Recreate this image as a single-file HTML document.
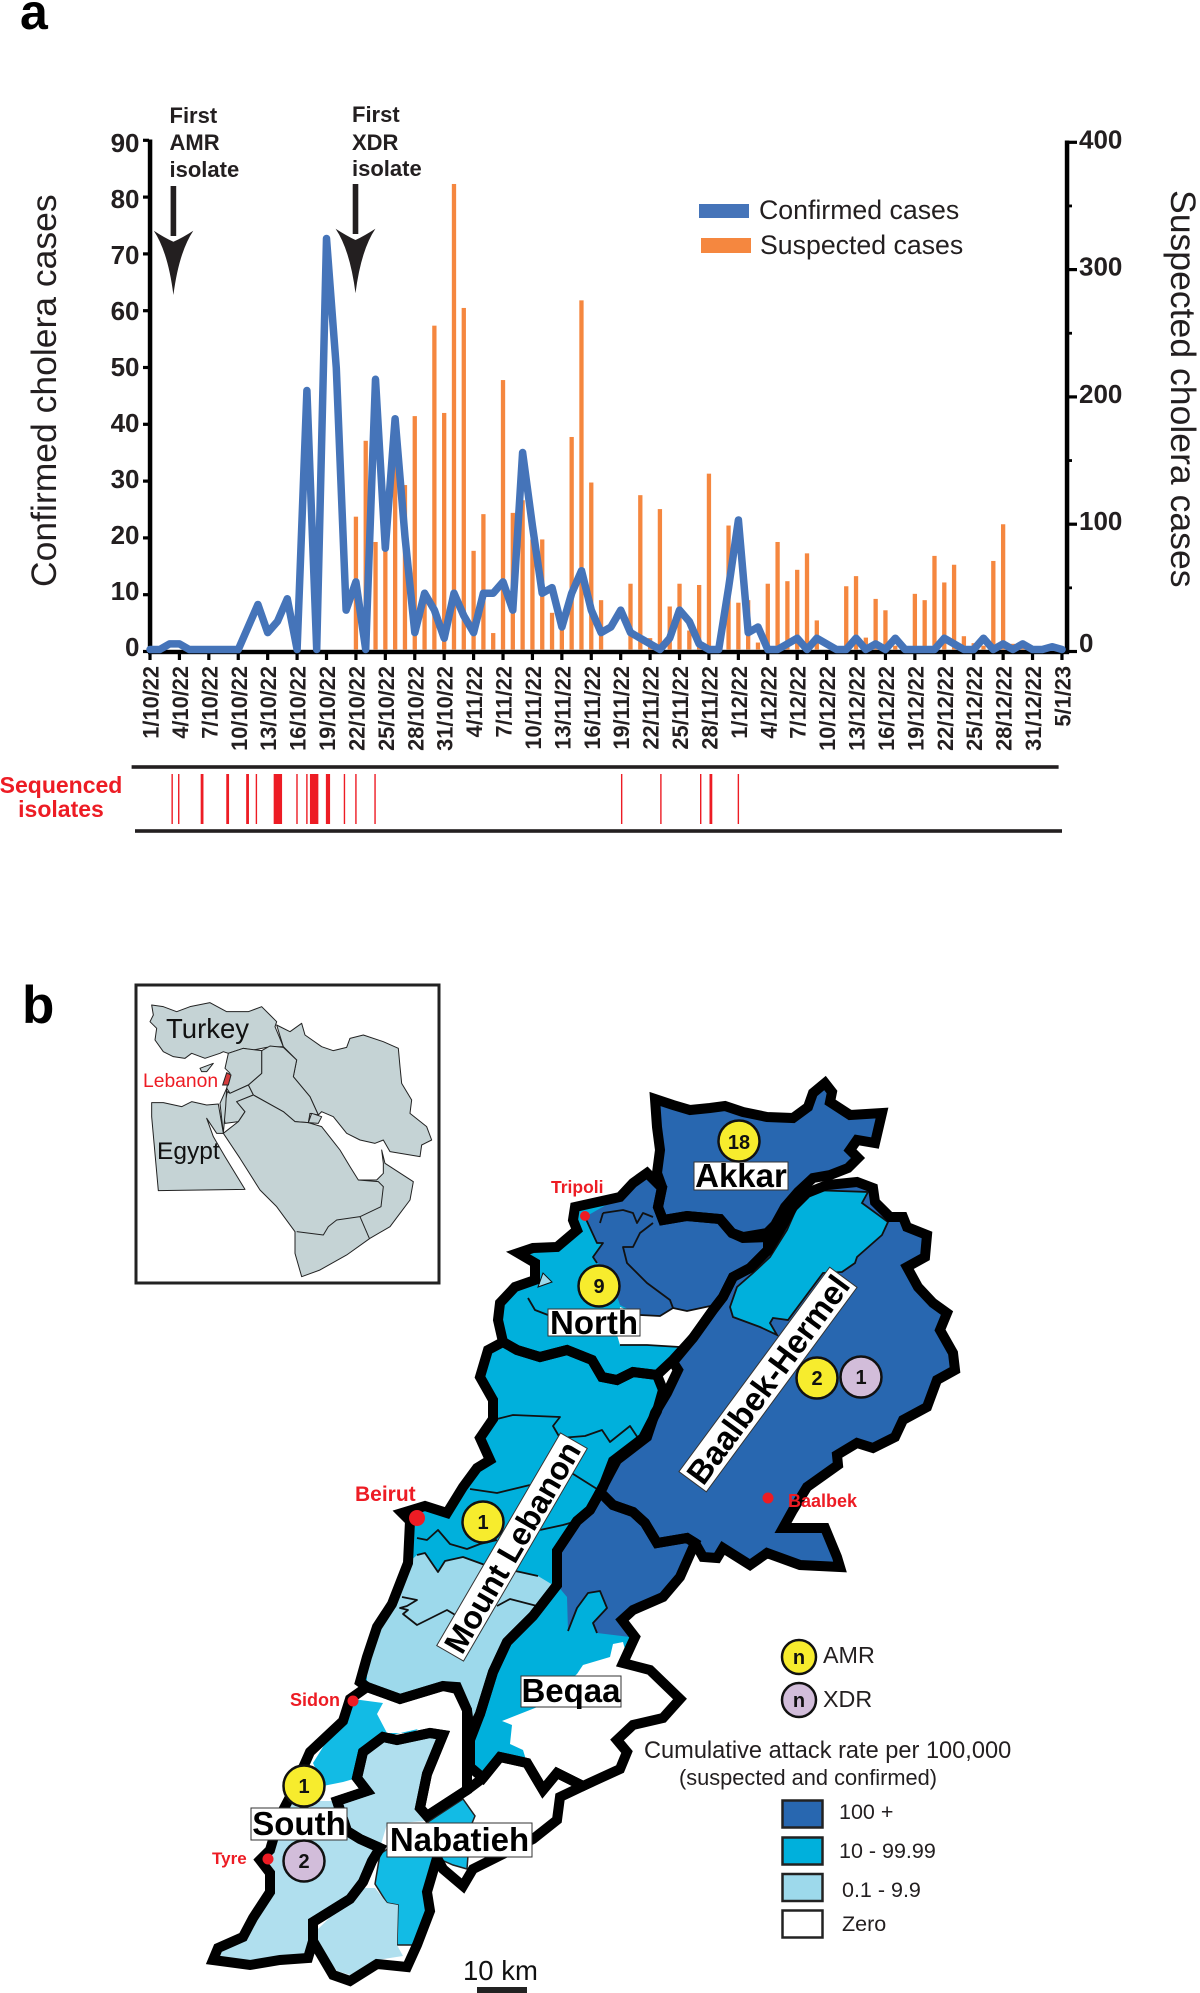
<!DOCTYPE html>
<html lang="en">
<head>
<meta charset="utf-8">
<title>Cholera cases in Lebanon</title>
<style>
html,body{margin:0;padding:0;background:#fff;}
svg{display:block;}
text{font-family:"Liberation Sans",Arial,sans-serif;fill:#231f20;}
.b{font-weight:bold;}
.red{fill:#ed1c24;}
.thick{fill:none;stroke:#000;stroke-width:10;stroke-linejoin:miter;stroke-miterlimit:3;}
.thin{fill:none;stroke:#111;stroke-width:1.8;stroke-linejoin:round;}
.lab{fill:#fff;stroke:#333;stroke-width:1;}
.labt{font-weight:bold;fill:#000;font-size:33px;text-anchor:middle;}
.cn{font-weight:bold;font-size:20px;text-anchor:middle;fill:#111;}
.ins{fill:#c5d3d5;stroke:#222;stroke-width:3;stroke-linejoin:round;}
</style>
</head>
<body>
<svg id="fig" xmlns="http://www.w3.org/2000/svg" width="1200" height="1993" viewBox="0 0 1200 1993">
<rect width="1200" height="1993" fill="#fff"/>

<text x="20" y="29" class="b" font-size="50" style="fill:#000">a</text>
<text x="22" y="1023" class="b" font-size="53" style="fill:#000">b</text>

<!-- PANEL A static text -->
<text transform="translate(56,587) rotate(-90)" font-size="35.5">Confirmed cholera cases</text>
<text transform="translate(1171,190) rotate(90)" font-size="35.6">Suspected cholera cases</text>

<g>
<text x="169.5" y="123" class="b" font-size="22">First</text>
<text x="169.5" y="150" class="b" font-size="22">AMR</text>
<text x="169.5" y="177" class="b" font-size="22">isolate</text>
<rect x="170.6" y="186" width="5.6" height="50" fill="#231f20"/>
<path d="M173.4 295 Q168 252 153.8 230.7 Q165 238 173.4 241.7 Q182 238 193.3 230.7 Q179 252 173.4 295Z" fill="#231f20"/>
</g>
<g>
<text x="352" y="122" class="b" font-size="22">First</text>
<text x="352" y="150" class="b" font-size="22">XDR</text>
<text x="352" y="176" class="b" font-size="22">isolate</text>
<rect x="352.7" y="184" width="5.6" height="50" fill="#231f20"/>
<path d="M355.5 293.3 Q350 250 335.6 228.7 Q347 236 355.5 240 Q364 236 375.4 228.7 Q361 250 355.5 293.3Z" fill="#231f20"/>
</g>

<g>
<rect x="699" y="204" width="50" height="14" fill="#4574b9"/>
<text x="759" y="219" font-size="26.7">Confirmed cases</text>
<rect x="701" y="238" width="50" height="15" fill="#f5873f"/>
<text x="760" y="254" font-size="26.7">Suspected cases</text>
</g>

<g id="plot"></g>

<rect x="131.6" y="765.2" width="927" height="3.6" fill="#231f20"/>
<rect x="135" y="829.2" width="927" height="3.6" fill="#231f20"/>
<g>
<text x="61" y="793" class="b red" font-size="23" text-anchor="middle">Sequenced</text>
<text x="61" y="817" class="b red" font-size="23" text-anchor="middle">isolates</text>
</g>
<g id="strip"></g>

<!-- INSET MAP -->
<g>
<rect x="136" y="985" width="303" height="298" fill="#fff" stroke="#222" stroke-width="3"/>
<g transform="translate(0,960) scale(.33333)">
<polygon class="ins" points="455,135 490,140 530,155 570,140 630,128 680,155 745,155 785,140 810,165 830,185 825,200 850,260 800,262 760,270 730,265 685,280 670,275 660,280 615,295 575,280 555,295 520,290 490,275 465,240 470,205 450,185 460,165"/>
<polygon class="ins" points="830,195 870,215 905,190 915,225 965,260 1000,272 1040,262 1050,235 1090,225 1150,245 1195,265 1200,320 1205,370 1235,420 1230,460 1280,500 1295,540 1265,555 1260,590 1170,575 1150,540 1125,550 1080,540 1040,520 1000,470 965,455 955,465 930,410 880,350 890,300 850,260"/>
<polygon class="ins" points="850,262 890,300 880,350 930,410 955,465 930,460 925,488 885,485 850,455 760,405 745,375 785,340 785,272 810,258"/>
<polygon class="ins" points="685,280 730,265 785,272 785,340 745,375 690,400 680,385 690,340 675,325"/>
<polygon class="ins" points="745,375 760,405 710,425 735,455 715,485 675,490 670,455 682,395 690,400"/>
<polygon class="ins" points="710,425 760,405 850,455 885,485 925,488 965,500 1020,570 1050,620 1075,660 1130,660 1150,640 1150,610 1145,570 1155,610 1240,665 1230,720 1200,760 1170,800 1110,835 1040,885 960,930 905,950 885,880 885,815 830,740 780,690 720,595 670,520 715,485 735,455"/>
<polyline class="ins" style="fill:none" points="1075,660 1135,665 1150,680 1143,740 1080,770 1010,780 985,800 970,825 890,815"/>
<polyline class="ins" style="fill:none" points="1080,770 1108,835"/>
<polygon class="ins" points="925,488 935,460 965,470 955,490"/>
<polygon class="ins" points="680,385 660,430 670,520 677,440"/>
<polygon class="ins" points="455,428 490,428 545,440 575,425 620,435 655,432 670,520 650,520 620,475 640,530 675,590 735,688 475,692 455,470"/>
<polygon class="ins" points="600,325 640,310 620,335 605,335"/>
<polygon fill="#d63b3c" stroke="#222" stroke-width="3" points="680,338 693,345 685,375 668,375"/>
</g>
<text x="166" y="1038" font-size="27.5" style="fill:#111">Turkey</text>
<text x="143" y="1087" font-size="19.3" class="red">Lebanon</text>
<text x="157" y="1159" font-size="24.5" style="fill:#111">Egypt</text>
</g>

<!-- LEBANON MAP -->
<g>
<!-- fills -->
<polygon fill="#2867b0" points="655,1099 673,1105 690,1110 710,1108 725,1106 743,1112 767,1117 793,1118 808,1107 813,1093 825,1083 832,1092 830,1102 850,1115 882,1113 875,1143 857,1140 850,1150 858,1158 848,1168 830,1175 813,1178 798,1192 785,1207 775,1225 767,1233 743,1237 732,1233 720,1219 687,1216 663,1220 658,1207 662,1187 657,1173 660,1150 657,1127"/>
<polygon fill="#00b0dc" points="575,1207 620,1197 633,1183 647,1173 662,1188 658,1207 663,1220 687,1216 720,1219 732,1233 743,1238 768,1237 768,1250 750,1268 733,1277 723,1297 713,1310 693,1338 673,1360 657,1375 633,1372 617,1380 602,1377 592,1360 567,1350 540,1357 517,1350 503,1342 498,1320 500,1303 515,1287 535,1280 535,1263 518,1253 533,1248 557,1247 577,1230 573,1220"/>
<polygon fill="#2867b0" points="585,1217 597,1243 603,1243 593,1257 597,1263 607,1267 620,1305 640,1315 660,1316 673,1308 687,1311 715,1305 723,1297 733,1277 750,1268 768,1250 768,1237 743,1238 732,1233 720,1219 687,1216 663,1220 658,1207 662,1188 647,1173 620,1197"/>
<polygon fill="#fff" points="620,1307 640,1315 660,1316 673,1308 687,1311 715,1305 723,1297 713,1310 703,1323 680,1347 647,1345 620,1345 617,1335"/>
<polygon fill="#9dd9eb" stroke="#111" stroke-width="1" points="538,1287 543,1273 552,1282"/>
<polygon fill="#00b0dc" points="503,1342 517,1350 540,1357 567,1350 592,1360 602,1377 617,1380 633,1372 657,1375 663,1390 657,1411 643,1438 613,1461 603,1487 590,1510 577,1521 557,1551 557,1585 533,1616 507,1642 493,1672 480,1714 470,1733 467,1710 457,1687 443,1686 400,1699 367,1687 360,1682 367,1657 377,1627 392,1604 408,1563 410,1521 402,1513 425,1506 447,1513 463,1487 477,1468 490,1460 480,1438 493,1419 493,1400 480,1377 488,1350"/>
<polygon fill="#9dd9eb" points="417,1555 425,1553 438,1572 445,1561 463,1557 485,1565 520,1572 538,1576 553,1585 533,1616 507,1642 493,1672 480,1714 470,1725 457,1687 443,1686 400,1699 367,1687 367,1657 377,1627 392,1604 408,1563"/>
<polygon fill="#2867b0" points="673,1362 693,1338 713,1310 723,1297 733,1277 750,1268 768,1250 780,1230 793,1207 807,1193 827,1185 857,1182 873,1188 875,1202 890,1217 903,1217 907,1227 927,1235 925,1257 907,1267 918,1287 933,1303 947,1313 940,1330 953,1353 955,1370 937,1380 927,1407 903,1420 895,1437 873,1448 857,1443 837,1455 838,1465 807,1487 793,1510 783,1528 825,1528 837,1557 840,1567 800,1565 767,1553 750,1565 723,1548 717,1558 703,1557 695,1543 687,1538 657,1543 645,1523 633,1512 613,1505 600,1492 610,1473 617,1460 647,1437 655,1413 667,1393 678,1370"/>
<polygon fill="#00b0dc" stroke="#111" stroke-width="1.8" points="810,1190 868,1192 862,1203 888,1222 882,1235 857,1257 855,1263 842,1272 823,1273 788,1320 773,1318 770,1323 777,1335 760,1327 733,1317 730,1307 737,1287 753,1273 770,1257 787,1230 797,1207"/>
<polygon fill="#00b0dc" points="600,1492 613,1505 633,1512 645,1523 657,1543 687,1538 695,1543 680,1577 663,1597 633,1610 622,1620 635,1637 623,1663 650,1670 680,1699 663,1718 633,1725 617,1740 627,1752 620,1769 583,1786 557,1773 543,1790 527,1763 500,1757 483,1778 470,1767 470,1740 480,1714 493,1672 507,1642 533,1616 557,1585 557,1551 577,1521 590,1510"/>
<polygon fill="#2867b0" points="600,1492 613,1505 633,1512 645,1523 657,1543 687,1538 695,1543 680,1577 663,1597 633,1610 622,1620 630,1637 597,1633 593,1623 607,1608 600,1591 588,1593 577,1608 568,1631 567,1597 557,1585 557,1551 577,1521 590,1510"/>
<polygon fill="#fff" points="623,1642 613,1644 610,1657 583,1665 577,1674 540,1706 502,1721 512,1725 510,1744 523,1750 527,1763 543,1790 557,1773 583,1786 620,1769 627,1752 617,1740 633,1725 663,1718 680,1699 650,1670 627,1657"/>
<polygon fill="#12bbe5" points="353,1699 383,1703 377,1714 387,1733 413,1733 418,1729 383,1737 363,1752 357,1778 343,1782 323,1786 313,1763"/>
<polygon fill="#b0dfee" points="290,1801 337,1801 347,1831 360,1839 380,1848 372,1861 363,1882 350,1899 313,1922 313,1941 308,1958 280,1960 250,1965 213,1960 218,1948 243,1937 253,1918 270,1892 270,1873 270,1850 280,1816"/>
<polygon fill="#b0dfee" points="337,1801 367,1791 357,1778 363,1752 383,1737 397,1740 430,1733 443,1735 427,1774 420,1808 427,1816 437,1820 387,1824 380,1848 360,1839 347,1831"/>
<polygon fill="#12bbe5" stroke="#222" stroke-width="1.5" points="437,1816 463,1799 475,1816 470,1828 467,1869 453,1865 437,1858 427,1892 430,1911 413,1945 397,1945 398,1905 387,1903 375,1884 380,1854"/>
<polygon fill="#b0dfee" points="318,1929 360,1888 375,1888 387,1903 398,1905 397,1945 403,1956 377,1960 350,1975 337,1971 318,1945"/>

<!-- thin internal district lines -->
<g>
<polyline class="thin" points="585,1217 597,1243 603,1243 593,1257 597,1263"/>
<polyline class="thin" points="603,1213 623,1210 633,1213 637,1223 643,1213 653,1217"/>
<polyline class="thin" points="653,1223 640,1233 633,1247 623,1247 627,1263 647,1283 670,1300 673,1308"/>
<polyline class="thin" points="603,1213 600,1223"/>
<polyline class="thin" points="528,1298 535,1310 548,1315"/>
<polyline class="thin" points="620,1345 647,1345 680,1347 703,1323"/>
<polyline class="thin" points="640,1315 660,1316 673,1308 687,1311 715,1305"/>
<polyline class="thin" points="497,1419 513,1415 560,1417 553,1426 560,1438 585,1436 602,1430 610,1442 630,1426 638,1438"/>
<polyline class="thin" points="470,1489 497,1493 530,1485"/>
<polyline class="thin" points="570,1472 597,1489"/>
<polyline class="thin" points="417,1538 427,1540 438,1530 450,1544 467,1549 480,1544 497,1540"/>
<polyline class="thin" points="540,1530 563,1525 577,1521"/>
<polyline class="thin" points="417,1555 425,1553 438,1572 445,1561 463,1557 485,1565 520,1572 538,1576"/>
<polyline class="thin" points="402,1597 417,1600 407,1606 400,1608 408,1610 403,1614 417,1625 447,1610 457,1616"/>
<polyline class="thin" points="497,1606 510,1599 537,1606"/>
<polyline class="thin" points="597,1633 593,1623 607,1608 600,1591 588,1593 577,1608 568,1631"/>
</g>

<!-- thick governorate outlines -->
<g>
<polygon class="thick" points="655,1099 673,1105 690,1110 710,1108 725,1106 743,1112 767,1117 793,1118 808,1107 813,1093 825,1083 832,1092 830,1102 850,1115 882,1113 875,1143 857,1140 850,1150 858,1158 848,1168 830,1175 813,1178 798,1192 785,1207 775,1225 767,1233 743,1237 732,1233 720,1219 687,1216 663,1220 658,1207 662,1187 657,1173 660,1150 657,1127"/>
<polygon class="thick" points="575,1207 620,1197 633,1183 647,1173 662,1188 658,1207 663,1220 687,1216 720,1219 732,1233 743,1238 768,1237 768,1250 750,1268 733,1277 723,1297 713,1310 693,1338 673,1360 657,1375 633,1372 617,1380 602,1377 592,1360 567,1350 540,1357 517,1350 503,1342 498,1320 500,1303 515,1287 535,1280 535,1263 518,1253 533,1248 557,1247 577,1230 573,1220"/>
<polygon class="thick" points="503,1342 517,1350 540,1357 567,1350 592,1360 602,1377 617,1380 633,1372 657,1375 663,1390 657,1411 643,1438 613,1461 603,1487 590,1510 577,1521 557,1551 557,1585 533,1616 507,1642 493,1672 480,1714 470,1733 467,1710 457,1687 443,1686 400,1699 367,1687 360,1682 367,1657 377,1627 392,1604 408,1563 410,1521 402,1513 425,1506 447,1513 463,1487 477,1468 490,1460 480,1438 493,1419 493,1400 480,1377 488,1350"/>
<polygon class="thick" points="673,1362 693,1338 713,1310 723,1297 733,1277 750,1268 768,1250 780,1230 793,1207 807,1193 827,1185 857,1182 873,1188 875,1202 890,1217 903,1217 907,1227 927,1235 925,1257 907,1267 918,1287 933,1303 947,1313 940,1330 953,1353 955,1370 937,1380 927,1407 903,1420 895,1437 873,1448 857,1443 837,1455 838,1465 807,1487 793,1510 783,1528 825,1528 837,1557 840,1567 800,1565 767,1553 750,1565 723,1548 717,1558 703,1557 695,1543 687,1538 657,1543 645,1523 633,1512 613,1505 600,1492 610,1473 617,1460 647,1437 655,1413 667,1393 678,1370"/>
<polygon class="thick" points="600,1492 613,1505 633,1512 645,1523 657,1543 687,1538 695,1543 680,1577 663,1597 633,1610 622,1620 635,1637 623,1663 650,1670 680,1699 663,1718 633,1725 617,1740 627,1752 620,1769 583,1786 557,1773 543,1790 527,1763 500,1757 483,1778 470,1767 470,1740 480,1714 493,1672 507,1642 533,1616 557,1585 557,1551 577,1521 590,1510"/>
<polygon class="thick" points="350,1699 343,1721 310,1752 290,1797 280,1816 270,1850 260,1860 270,1873 270,1892 253,1918 243,1937 218,1948 213,1960 250,1965 280,1960 308,1958 313,1941 313,1922 350,1899 363,1882 372,1861 380,1848 360,1839 347,1831 337,1801 367,1791 357,1778 363,1752 383,1737 397,1740 430,1733 443,1735 427,1774 420,1808 427,1816 467,1790 467,1733 467,1710 457,1689 443,1686 400,1699 367,1687"/>
<polygon class="thick" points="337,1801 367,1791 357,1778 363,1752 383,1737 397,1740 430,1733 443,1735 427,1774 420,1808 427,1816 467,1790 483,1778 500,1757 527,1763 543,1790 557,1773 583,1786 560,1797 557,1820 533,1839 473,1869 463,1886 443,1869 437,1858 427,1892 430,1911 417,1945 407,1967 377,1964 350,1981 333,1975 313,1941 313,1922 350,1899 363,1882 372,1861 380,1848 360,1839 347,1831"/>
</g>

<!-- region labels -->
<g><rect class="lab" x="694" y="1162" width="94" height="28"/><text class="labt" x="741" y="1187">Akkar</text></g>
<g><rect class="lab" x="548" y="1309" width="92" height="27"/><text class="labt" x="594" y="1334">North</text></g>
<g transform="translate(768,1379.5) rotate(-53.6)"><rect class="lab" x="-127" y="-17" width="254" height="34"/><text class="labt" x="0" y="11.5">Baalbek-Hermel</text></g>
<g transform="translate(512,1547) rotate(-59.8)"><rect class="lab" x="-123" y="-15.5" width="246" height="31"/><text class="labt" x="0" y="11.5" style="font-size:32px">Mount Lebanon</text></g>
<g><rect class="lab" x="521" y="1676" width="100" height="31"/><text class="labt" x="571" y="1702">Beqaa</text></g>
<g><rect class="lab" x="251" y="1808" width="96" height="32"/><text class="labt" x="299" y="1835">South</text></g>
<g><rect class="lab" x="387" y="1823" width="145" height="34"/><text class="labt" x="459.5" y="1851">Nabatieh</text></g>

<!-- isolate count badges -->
<g><circle cx="739" cy="1141" r="20.5" fill="#f7ec2d" stroke="#111" stroke-width="2.5"/><text class="cn" x="739" y="1149">18</text></g>
<g><circle cx="599" cy="1286" r="20.5" fill="#f7ec2d" stroke="#111" stroke-width="2.5"/><text class="cn" x="599" y="1293">9</text></g>
<g><circle cx="817" cy="1378" r="20.5" fill="#f7ec2d" stroke="#111" stroke-width="2.5"/><text class="cn" x="817" y="1385">2</text></g>
<g><circle cx="861" cy="1377" r="20.5" fill="#d2bdda" stroke="#111" stroke-width="2.5"/><text class="cn" x="861" y="1384">1</text></g>
<g><circle cx="483" cy="1522" r="20.5" fill="#f7ec2d" stroke="#111" stroke-width="2.5"/><text class="cn" x="483" y="1529">1</text></g>
<g><circle cx="304" cy="1786" r="20.5" fill="#f7ec2d" stroke="#111" stroke-width="2.5"/><text class="cn" x="304" y="1793">1</text></g>
<g><circle cx="304" cy="1861" r="20.5" fill="#d2bdda" stroke="#111" stroke-width="2.5"/><text class="cn" x="304" y="1868">2</text></g>

<!-- cities -->
<g><circle cx="585" cy="1216" r="5" fill="#ed1c24"/><text x="551" y="1193" class="b red" font-size="17.5">Tripoli</text></g>
<g><circle cx="417" cy="1518" r="8" fill="#ed1c24"/><text x="355" y="1501" class="b red" font-size="21">Beirut</text></g>
<g><circle cx="353" cy="1701" r="5.5" fill="#ed1c24"/><text x="290" y="1706" class="b red" font-size="18">Sidon</text></g>
<g><circle cx="268" cy="1859" r="5.5" fill="#ed1c24"/><text x="212" y="1864" class="b red" font-size="17">Tyre</text></g>
<g><circle cx="768" cy="1498" r="5.5" fill="#ed1c24"/><text x="788" y="1507" class="b red" font-size="18">Baalbek</text></g>

<g>
<text x="463" y="1980" font-size="27.5" style="fill:#111">10 km</text>
<rect x="477" y="1987" width="50" height="6" fill="#222"/>
</g>
</g>

<!-- map legend -->
<g>
<g><circle cx="799" cy="1657" r="17" fill="#f7ec2d" stroke="#111" stroke-width="2.5"/><text class="cn" x="799" y="1664">n</text><text x="823" y="1663" font-size="23.3">AMR</text></g>
<g><circle cx="799" cy="1700" r="17" fill="#d2bdda" stroke="#111" stroke-width="2.5"/><text class="cn" x="799" y="1707">n</text><text x="823" y="1707" font-size="23.3">XDR</text></g>
<text x="644" y="1758" font-size="23.6">Cumulative attack rate per 100,000</text>
<text x="679" y="1785" font-size="21.8">(suspected and confirmed)</text>
<g><rect x="782.5" y="1800.5" width="40" height="27" fill="#2867b0" stroke="#222" stroke-width="2.5"/><text x="839" y="1819" font-size="21.5">100 +</text></g>
<g><rect x="782.5" y="1837.5" width="40" height="27" fill="#00b0dc" stroke="#222" stroke-width="2.5"/><text x="839" y="1858" font-size="21.5">10 - 99.99</text></g>
<g><rect x="782.5" y="1874" width="40" height="27" fill="#9dd9eb" stroke="#222" stroke-width="2.5"/><text x="842" y="1897" font-size="21.5">0.1 - 9.9</text></g>
<g><rect x="782.5" y="1910.5" width="40" height="27" fill="#fff" stroke="#222" stroke-width="2.5"/><text x="842" y="1931" font-size="21.5">Zero</text></g>
</g>
</svg>

<script>
const dateLabels = ["1/10/22","4/10/22","7/10/22","10/10/22","13/10/22","16/10/22","19/10/22","22/10/22","25/10/22","28/10/22","31/10/22","4/11/22","7/11/22","10/11/22","13/11/22","16/11/22","19/11/22","22/11/22","25/11/22","28/11/22","1/12/22","4/12/22","7/12/22","10/12/22","13/12/22","16/12/22","19/12/22","22/12/22","25/12/22","28/12/22","31/12/22","5/1/23"];
const leftTicks = [0,10,20,30,40,50,60,70,80,90];
const rightMajorTicks = [0,100,200,300,400];
const rightMinorTicks = [50,150,250,350];
const confirmedCases = [0,0,1,1,0,0,0,0,0,0,4,8,3,5,9,0,46,0,73,50,7,12,0,48,18,41,20,3,10,7,2,10,6,3,10,10,12,7,35,22,10,11,4,10,14,7,3,4,7,3,2,1,0,2,7,5,1,0,0,11,23,3,4,0,0,1,2,0,2,1,0,0,2,0,1,0,2,0,0,0,0,2,1,0,0,2,0,1,0,1,0,0,0.5,0];
const suspectedCases = [0,0,0,0,0,0,0,0,0,0,0,0,0,0,0,0,0,0,0,0,0,105,165,85,87,153,130,184.5,45,256,187,368,270,78,107,13,213,108,118,87,87,29,24,168,276,132,39,0,0,52,122,9,111,34,52,15,51,139,0,98,37,39,5.5,52,85,54,63,76,23,0,0,50,58,9.4,40,31,3,0,44,39,74,53,67,10.5,5,3,70,99,4.5,7,0,0,0,0];
const isolateDays = [2.26,2.93,5.31,7.92,9.95,10.85,13.04,14.99,16,16.74,18.15,19.83,21,22.95,48.1,52.1,56.16,57.2,60];
const isolateCounts = [1,1,2,2,2,1,6,1,1,6,3,1,1,1,1,1,1,2,1];

const NS = "http://www.w3.org/2000/svg";
const plot = document.getElementById("plot");
const strip = document.getElementById("strip");
function xDay(i){ return 150 + i * 9.806; }
function yLeft(v){ return 649.5 - 5.63 * v; }
function yRight(v){ return 649.5 - 1.265 * v; }
function yLeftAxis(v){ return 652 - 5.68 * v; }
function yRightAxis(v){ return 652 - 1.273 * v; }
function mk(tag, parent, attrs){
  const n = document.createElementNS(NS, tag);
  for (const k in attrs) n.setAttribute(k, attrs[k]);
  parent.appendChild(n);
  return n;
}

suspectedCases.forEach(function(v, i){
  if (v <= 0) return;
  const bar = mk("rect", plot, {x: xDay(i) - 2.15, y: yRight(v), width: 4.3, height: yRight(0) - yRight(v), fill: "#f5873f"});
  
  
});

const xAxis = mk("rect", plot, {x: 148, y: 649.8, width: 921, height: 4.4, fill: "#000"});


const leftAxis = mk("rect", plot, {x: 147.8, y: 139.5, width: 4.5, height: 514, fill: "#000"});


const rightAxis = mk("rect", plot, {x: 1064.8, y: 140.5, width: 4.5, height: 513, fill: "#000"});



dateLabels.forEach(function(label, k){
  const x = xDay(k * 3);
  const tick = mk("rect", plot, {x: x - 1.6, y: 652, width: 3.2, height: 8, fill: "#000"});
  
  
  const t = mk("text", plot, {transform: "translate(" + (x + 8.5) + ",666) rotate(-90)", "text-anchor": "end", "font-size": 21.8, "font-weight": "bold"});
  t.textContent = label;
  
  
});

leftTicks.forEach(function(v){
  const y = yLeftAxis(v) - 0.5;
  const tick = mk("rect", plot, {x: 143, y: y - 1.6, width: 6, height: 3.2, fill: "#000"});
  
  
  const t = mk("text", plot, {x: 139.5, y: 656 - 5.6 * v, "text-anchor": "end", "font-size": 26, "font-weight": "bold"});
  t.textContent = v;
  
  
});

rightMajorTicks.forEach(function(v){
  const y = yRightAxis(v) - 0.5;
  const tick = mk("rect", plot, {x: 1068, y: y - 1.6, width: 9, height: 3.2, fill: "#000"});
  
  
  const t = mk("text", plot, {x: 1079, y: yRightAxis(v) + (v > 0 ? 5.5 : 0), "font-size": 26, "font-weight": "bold"});
  t.textContent = v;
  
  
});
rightMinorTicks.forEach(function(v){
  const y = yRightAxis(v) - 0.5;
  const tick = mk("rect", plot, {x: 1068, y: y - 1.4, width: 4, height: 2.8, fill: "#000"});
  
  
});

const linePts = confirmedCases.map(function(v, i){ return xDay(i).toFixed(1) + "," + yLeft(v).toFixed(1); }).join(" ");
const line = mk("polyline", plot, {points: linePts, fill: "none", stroke: "#4574b9", "stroke-width": 7.5, "stroke-linejoin": "round", "stroke-linecap": "round"});



isolateDays.forEach(function(d, k){
  const w = isolateCounts[k] * 1.4;
  const r = mk("rect", strip, {x: xDay(d) - w / 2, y: 774, width: w, height: 50, fill: "#ed1c24"});
  
  
});
</script>
</body>
</html>
